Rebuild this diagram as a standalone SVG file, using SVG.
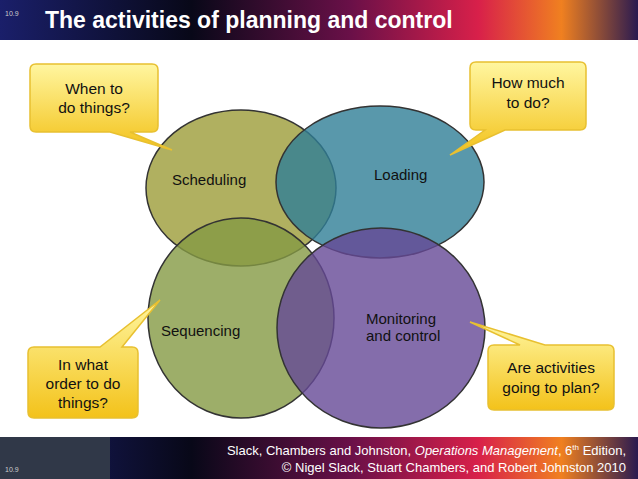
<svg xmlns="http://www.w3.org/2000/svg" width="638" height="479" viewBox="0 0 638 479">
<defs>
<linearGradient id="band" x1="0" y1="0" x2="1" y2="0">
<stop offset="0" stop-color="#1a1f6a"/><stop offset="0.3" stop-color="#080818"/><stop offset="0.55" stop-color="#6a1048"/><stop offset="0.75" stop-color="#d8204a"/><stop offset="0.88" stop-color="#f08020"/><stop offset="1" stop-color="#2a1a50"/>
</linearGradient>
<linearGradient id="callout" x1="0" y1="0" x2="0" y2="1">
<stop offset="0" stop-color="#fff6a0"/><stop offset="1" stop-color="#f3c21a"/>
</linearGradient>
<style>
.t{font-family:"Liberation Sans",Arial,sans-serif;}
.lbl{font-size:15px;fill:#111;}
.co{font-size:15.5px;fill:#111;text-anchor:middle;}
.cb{fill:url(#callout);stroke:#e8c030;stroke-width:1.5;}
.el{stroke:#333;stroke-width:1.5;fill-opacity:0.8;}
</style>
</defs>
<rect width="638" height="479" fill="#fff"/>
<g id="header">
<rect x="0" y="0" width="638" height="40" fill="url(#band)"/>
<text class="t" x="5" y="16" font-size="7" fill="#ccc">10.9</text>
<text class="t" x="45" y="28" font-size="23" font-weight="bold" fill="#fff">The activities of planning and control</text>
</g>
<g id="footer">
<rect x="0" y="437" width="638" height="42" fill="url(#band)"/>
<rect x="0" y="437" width="110" height="42" fill="#303848"/>
<text class="t" x="5" y="472" font-size="7" fill="#ccc">10.9</text>
<text class="t" x="626" y="455" font-size="13" fill="#fff" text-anchor="end">Slack, Chambers and Johnston, <tspan font-style="italic">Operations Management</tspan>, 6<tspan font-size="8" dy="-5">th</tspan><tspan dy="5"> Edition,</tspan></text>
<text class="t" x="626" y="472" font-size="13" fill="#fff" text-anchor="end">© Nigel Slack, Stuart Chambers, and Robert Johnston 2010</text>
</g>
<g id="scheduling"><ellipse class="el" cx="241" cy="188" rx="95" ry="78" fill="#9c9c38"/></g>
<g id="loading"><ellipse class="el" cx="380" cy="182" rx="104" ry="76" fill="#2f7e96"/></g>
<g id="sequencing"><ellipse class="el" cx="241" cy="318" rx="93" ry="100" fill="#849a44"/></g>
<g id="monitoring"><ellipse class="el" cx="381" cy="328" rx="104" ry="100" fill="#654896"/></g>
<g id="labels" class="t">
<text class="lbl t" x="172" y="185">Scheduling</text>
<text class="lbl t" x="374" y="180">Loading</text>
<text class="lbl t" x="161" y="336">Sequencing</text>
<text class="lbl t" x="366" y="324">Monitoring</text>
<text class="lbl t" x="366" y="341">and control</text>
</g>
<g id="c1"><path class="cb" d="M36,64 H152 Q158,64 158,70 V126 Q158,132 152,132 H130 L172,150 L110,132 H36 Q30,132 30,126 V70 Q30,64 36,64 Z"/>
<text class="co t" x="94" y="94">When to</text><text class="co t" x="94" y="113">do things?</text></g>
<g id="c2"><path class="cb" d="M476,62 H580 Q586,62 586,68 V124 Q586,130 580,130 H505 L450,155 L485,130 H476 Q470,130 470,124 V68 Q470,62 476,62 Z"/>
<text class="co t" x="528" y="88">How much</text><text class="co t" x="528" y="108">to do?</text></g>
<g id="c3"><path class="cb" d="M34,347 H100 L160,300 L122,347 H132 Q138,347 138,353 V412 Q138,418 132,418 H34 Q28,418 28,412 V353 Q28,347 34,347 Z"/>
<text class="co t" x="83" y="370">In what</text><text class="co t" x="83" y="389">order to do</text><text class="co t" x="83" y="408">things?</text></g>
<g id="c4"><path class="cb" d="M494,345 H520 L470,322 L545,345 H608 Q614,345 614,351 V404 Q614,410 608,410 H494 Q488,410 488,404 V351 Q488,345 494,345 Z"/>
<text class="co t" x="551" y="373">Are activities</text><text class="co t" x="551" y="393">going to plan?</text></g>
</svg>
